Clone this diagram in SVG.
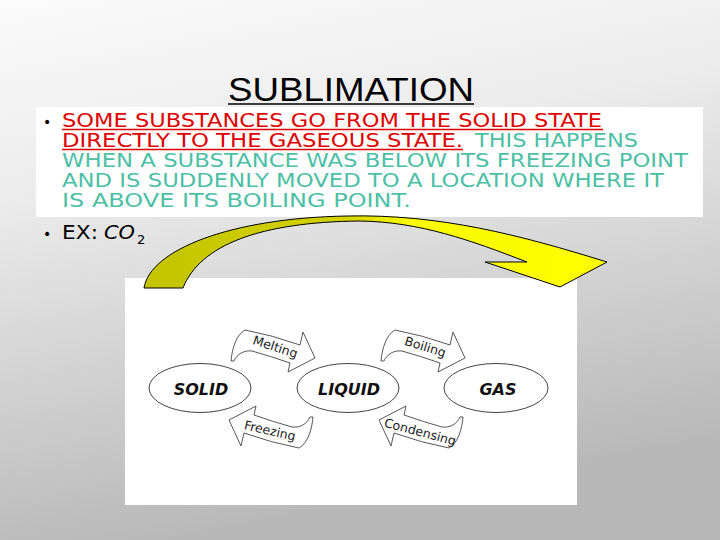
<svg xmlns="http://www.w3.org/2000/svg" width="720" height="540" viewBox="0 0 720 540">
<defs>
<linearGradient id="bg" x1="0" y1="0" x2="0.25" y2="1">
<stop offset="0" stop-color="#fbfbfb"/>
<stop offset="0.35" stop-color="#ececec"/>
<stop offset="1" stop-color="#b8b8b8"/>
</linearGradient>
<linearGradient id="yel" x1="144" y1="0" x2="607" y2="0" gradientUnits="userSpaceOnUse">
<stop offset="0" stop-color="#c4c400"/>
<stop offset="0.42" stop-color="#d2d200"/>
<stop offset="0.58" stop-color="#fafa00"/>
<stop offset="1" stop-color="#ffff00"/>
</linearGradient>
<path id="curl" d="M231,361 C232,349 236,335 245,330 Q272,335 300,345 L303,332 L315,358 L288,372 L290,363 Q270,356 252,351 C244,350 237,354 234,361 Z"/>
</defs>
<style>
.body{font-family:"DejaVu Sans","Liberation Sans",sans-serif;font-size:19px}
.red{fill:#e00000}
.teal{fill:#4dbfa6}
.st{font-family:"DejaVu Sans","Liberation Sans",sans-serif;font-size:16px;font-weight:bold;font-style:italic;fill:#111;text-anchor:middle}
.lbl{font-family:"DejaVu Sans","Liberation Sans",sans-serif;font-size:12.5px;fill:#222;text-anchor:middle}
.node{fill:#fff;stroke:#444;stroke-width:1}
.curl{fill:#fff;stroke:#444;stroke-width:0.9}
</style>
<rect x="0" y="0" width="720" height="540" fill="url(#bg)"/>
<text x="228" y="101" font-family="'Liberation Sans',Arial,sans-serif" font-size="33" textLength="246" lengthAdjust="spacingAndGlyphs" fill="#000">SUBLIMATION</text>
<line x1="228" y1="104" x2="474" y2="104" stroke="#000" stroke-width="1.5"/>
<rect x="36" y="107" width="667" height="110" fill="#fff"/>
<g class="body">
<text x="43" y="127" font-size="14">•</text>
<text class="red" x="62" y="127" textLength="540" lengthAdjust="spacingAndGlyphs">SOME SUBSTANCES GO FROM THE SOLID STATE</text>
<text class="red" x="62" y="147" textLength="401" lengthAdjust="spacingAndGlyphs">DIRECTLY TO THE GASEOUS STATE.</text>
<text class="teal" x="475" y="147" textLength="163" lengthAdjust="spacingAndGlyphs">THIS HAPPENS</text>
<text class="teal" x="62" y="167" textLength="626" lengthAdjust="spacingAndGlyphs">WHEN A SUBSTANCE WAS BELOW ITS FREEZING POINT</text>
<text class="teal" x="62" y="187" textLength="602" lengthAdjust="spacingAndGlyphs">AND IS SUDDENLY MOVED TO A LOCATION WHERE IT</text>
<text class="teal" x="62" y="207" textLength="349" lengthAdjust="spacingAndGlyphs">IS ABOVE ITS BOILING POINT.</text>
<text x="43" y="239" font-size="14">•</text>
<text x="62" y="239" fill="#000" textLength="36" lengthAdjust="spacingAndGlyphs">EX:</text>
<text x="104" y="239" fill="#000" font-style="italic" textLength="31" lengthAdjust="spacingAndGlyphs">CO</text>
<text x="137" y="244" fill="#000" font-size="13">2</text>
</g>
<line x1="62" y1="129.5" x2="603" y2="129.5" stroke="#e00000" stroke-width="1.6"/>
<line x1="62" y1="149.5" x2="463" y2="149.5" stroke="#e00000" stroke-width="1.6"/>
<rect x="125" y="278" width="452" height="227" fill="#fff"/>
<g id="connectors">
<path id="sublimation-arrow" d="M144,288 C150,250 230,218 347,216 C440,214 520,235 607,262 L560,287 L485,262 L527,262 C470,240 420,222 360,221 C260,222 200,245 183,288 Z" fill="url(#yel)" stroke="#000" stroke-width="1"/>
<g id="melting">
<use href="#curl" class="curl"/>
<text class="lbl" transform="translate(274,351) rotate(18)">Melting</text>
</g>
<g id="boiling">
<use href="#curl" class="curl" transform="translate(150,0)"/>
<text class="lbl" transform="translate(424,351) rotate(17)">Boiling</text>
</g>
<g id="freezing">
<use href="#curl" class="curl" transform="rotate(180,272,389)"/>
<text class="lbl" transform="translate(269,435) rotate(13)">Freezing</text>
</g>
<g id="condensing">
<use href="#curl" class="curl" transform="translate(150,0) rotate(180,272,389)"/>
<text class="lbl" font-size="11" transform="translate(419,436) rotate(15)">Condensing</text>
</g>
</g>
<g id="solid">
<ellipse class="node" cx="200" cy="388" rx="51" ry="24.5"/>
<text class="st" x="201" y="395">SOLID</text>
</g>
<g id="liquid">
<ellipse class="node" cx="348" cy="388" rx="51" ry="24.5"/>
<text class="st" x="349" y="395">LIQUID</text>
</g>
<g id="gas">
<ellipse class="node" cx="496" cy="388" rx="52" ry="24.5"/>
<text class="st" x="498" y="395">GAS</text>
</g>
</svg>
